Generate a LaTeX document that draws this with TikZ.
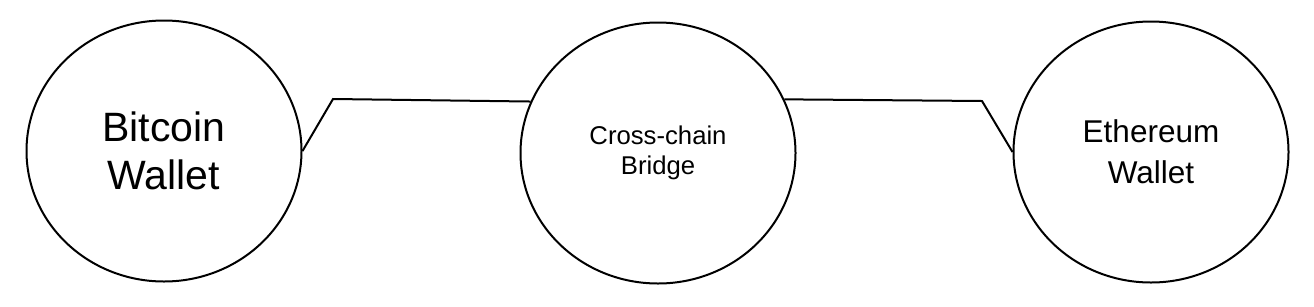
\documentclass[tikz,border=0pt]{standalone}
\usepackage{fontspec}
\setmainfont{Liberation Sans}
\usetikzlibrary{shapes.geometric}

\begin{document}
\begin{tikzpicture}[x=1pt, y=-1pt,
    wallet/.style={draw, ellipse, line width=2pt, minimum width=275pt, minimum height=261pt, inner sep=0pt, align=center},
    link/.style={line width=2pt}]
  \useasboundingbox (0,0) rectangle (1314,306);

  % Bitcoin side
  \node[wallet, font=\fontsize{41}{48}\selectfont] (btc) at (164, 151) {Bitcoin\\Wallet};

  % Bridge in the middle
  \node[wallet, font=\fontsize{25.7}{30}\selectfont] (bridge) at (658, 153) {Cross-chain\\Bridge};

  % Ethereum side
  \node[wallet, font=\fontsize{31.5}{41}\selectfont] (eth) at (1151, 152) {Ethereum\\Wallet};

  % Bend points of the links
  \coordinate (bendL) at (333, 99);
  \coordinate (bendR) at (982, 101);

  % Links
  \draw[link] (btc.east) -- (bendL) -- (bridge.158);
  \draw[link] (bridge.23) -- (bendR) -- (eth.west);
\end{tikzpicture}
\end{document}
